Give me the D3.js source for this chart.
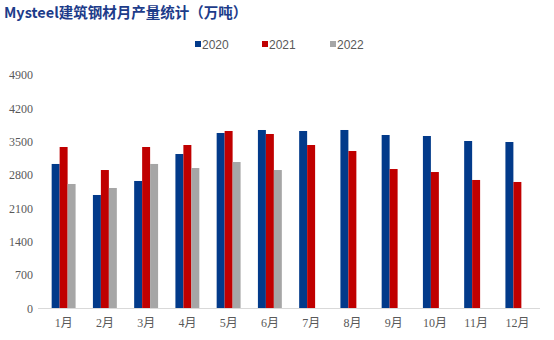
<!DOCTYPE html>
<html><head><meta charset="utf-8">
<script src="https://cdn.jsdelivr.net/npm/d3@7"></script>
<style>body{margin:0;background:#fff}svg{display:block}</style>
</head><body>
<svg id="c" width="554" height="340"></svg>
<script>
const months = ["1月","2月","3月","4月","5月","6月","7月","8月","9月","10月","11月","12月"];
const series = ["2020","2021","2022"];
const v2020 = [3033,2382,2676,3242,3683,3746,3725,3746,3641,3620,3515,3494];
const v2021 = [3389,2906,3389,3431,3725,3662,3431,3305,2927,2864,2697,2655];
const v2022 = [2613,2529,3033,2948,3074,2906,null,null,null,null,null,null];
const yTicks = [0,700,1400,2100,2800,3500,4200,4900];
const colors = ["#023a8a","#c00000","#a6a6a6"];
const values = [v2020, v2021, v2022];

const svg = d3.select("#c");
const x = d3.scaleBand().domain(months).range([43, 538]).paddingInner(0.42).paddingOuter(0.21);
const xs = d3.scaleBand().domain(series).range([0, x.bandwidth()]);
const y = d3.scaleLinear().domain([0, 4900]).range([308.5, 75]);

svg.append("text").attr("x", 4).attr("y", 18)
  .style("font-family", "'Noto Sans CJK SC', sans-serif").style("font-weight", "bold")
  .style("font-size", "14.5px").attr("fill", "#1d3c8a").text("Mysteel建筑钢材月产量统计（万吨）");

// y axis labels
const ya = svg.append("g").attr("transform", "translate(33,0)")
  .call(d3.axisLeft(y).tickValues(yTicks).tickFormat(d3.format("d")).tickSize(0).tickPadding(0));
ya.select(".domain").remove();
ya.selectAll("text").style("font-family", "'Liberation Serif', serif").style("font-size", "12px").attr("fill", "#595959");

// bars
series.forEach((s, si) => {
  svg.append("g").selectAll("rect")
    .data(months.map((m, i) => ({m, v: values[si][i]})).filter(d => d.v != null))
    .join("rect")
    .attr("x", d => x(d.m) + xs(s))
    .attr("y", d => y(d.v))
    .attr("width", xs.bandwidth())
    .attr("height", d => y(0) - y(d.v))
    .attr("fill", colors[si]);
});

// x axis
const xa = svg.append("g").attr("transform", "translate(0,308.5)")
  .call(d3.axisBottom(x).tickSize(0).tickPadding(10));
xa.select(".domain").attr("stroke", "#d9d9d9").attr("d", "M38,0H540");
xa.selectAll("text").style("font-family", "'Liberation Serif','Noto Sans CJK SC', serif").style("font-size", "12px").attr("fill", "#595959");

// legend
const lx = [195, 262, 330];
series.forEach((s, i) => {
  const g = svg.append("g").attr("transform", `translate(${lx[i]},44)`);
  g.append("rect").attr("x", 0).attr("y", -3).attr("width", 6).attr("height", 6).attr("fill", colors[i]);
  g.append("text").attr("x", 7).attr("y", 4.5).style("font-family", "'Liberation Sans', sans-serif")
    .style("font-size", "12px").attr("fill", "#595959").text(s);
});
</script>
</body></html>
